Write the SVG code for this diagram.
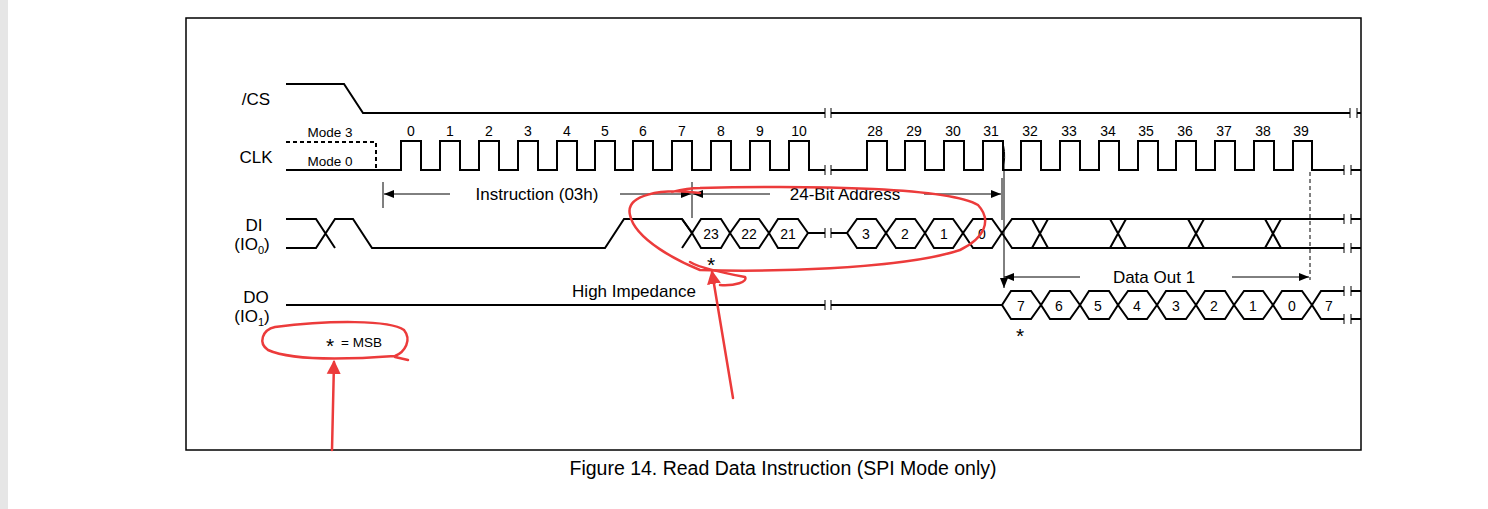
<svg xmlns="http://www.w3.org/2000/svg" width="1488" height="509" viewBox="0 0 1488 509">
<style>
.w{fill:none;stroke:#000;stroke-width:2}
.t{stroke:#000;stroke-width:1;fill:none}
text{font-family:"Liberation Sans",Arial,sans-serif;fill:#000}
.l{font-size:17px;text-anchor:middle}
.n{font-size:14px;text-anchor:middle}
.m{font-size:13.5px}
.r{fill:none;stroke:#ec3b3b;stroke-width:2.5;stroke-linecap:round}
</style>
<defs>
<marker id="a" markerWidth="10" markerHeight="8" refX="10" refY="4" orient="auto" markerUnits="userSpaceOnUse"><path d="M0,0 L10,4 L0,8z" fill="#000"/></marker>
<marker id="ra" markerWidth="14" markerHeight="24" refX="12" refY="12" orient="auto" markerUnits="userSpaceOnUse"><path d="M0,5 L14,12 L0,19z" fill="#ec3b3b"/></marker>
</defs>
<rect width="1488" height="509" fill="#fff"/>
<rect x="0" y="0" width="8" height="509" fill="#e6e6e6"/>
<rect x="186" y="18" width="1175" height="432" fill="none" stroke="#000" stroke-width="1.5"/>
<text x="783" y="475" class="l" style="font-size:19.5px">Figure 14. Read Data Instruction (SPI Mode only)</text>

<g id="labels">
<text x="256" y="105" class="l">/CS</text>
<text x="256" y="163" class="l">CLK</text>
<text x="254" y="231" class="l">DI</text>
<text x="252" y="250" class="l">(IO<tspan font-size="11" dy="4">0</tspan><tspan dy="-4">)</tspan></text>
<text x="256" y="303" class="l">DO</text>
<text x="252" y="322" class="l">(IO<tspan font-size="11" dy="4">1</tspan><tspan dy="-4">)</tspan></text>
</g>

<g id="cs">
<path class="w" d="M286,84 H344 L363,113 H825 M831,113 H1350 M1357,113 H1361"/>
<path class="t" d="M825,108 V118 M831,108 V118 M1350,108 V118 M1357,108 V118"/>
</g>

<g id="clk">
<path d="M286,142 H376 V170" fill="none" stroke="#000" stroke-width="2" stroke-dasharray="4,3"/>
<text x="330" y="137" class="m" text-anchor="middle">Mode 3</text>
<text x="330" y="166" class="m" text-anchor="middle">Mode 0</text>
<path class="w" d="M286,170 H401 V141 H421 V170 H440 V141 H460 V170 H479 V141 H499 V170 H518 V141 H538 V170 H557 V141 H577 V170 H595 V141 H615 V170 H633 V141 H653 V170 H672 V141 H692 V170 H711 V141 H731 V170 H750 V141 H770 V170 H789 V141 H809 V170 H825 M831,170 H867 V141 H887 V170 H905 V141 H925 V170 H944 V141 H964 V170 H983 V141 H1003 V170 H1021 V141 H1041 V170 H1060 V141 H1080 V170 H1099 V141 H1119 V170 H1138 V141 H1158 V170 H1176 V141 H1196 V170 H1215 V141 H1235 V170 H1254 V141 H1274 V170 H1293 V141 H1312 V170 H1344 M1351,170 H1361"/>
<path class="t" d="M825,165 V175 M831,165 V175 M1344,165 V175 M1351,165 V175"/>
<g class="n">
<text x="411" y="136">0</text><text x="450" y="136">1</text><text x="489" y="136">2</text><text x="528" y="136">3</text><text x="567" y="136">4</text><text x="605" y="136">5</text><text x="643" y="136">6</text><text x="682" y="136">7</text><text x="721" y="136">8</text><text x="760" y="136">9</text><text x="799" y="136">10</text>
<text x="875" y="136">28</text><text x="914" y="136">29</text><text x="953" y="136">30</text><text x="991" y="136">31</text><text x="1030" y="136">32</text><text x="1069" y="136">33</text><text x="1108" y="136">34</text><text x="1146" y="136">35</text><text x="1185" y="136">36</text><text x="1224" y="136">37</text><text x="1263" y="136">38</text><text x="1301" y="136">39</text>
</g>
</g>

<g id="spans">
<path class="t" d="M383,182 V208 M692,182 V218 M1002,178 V220"/>
<path class="t" d="M450,194 H384" marker-end="url(#a)"/>
<text x="537" y="200" class="l">Instruction (03h)</text>
<path class="t" d="M620,194 H691" marker-end="url(#a)"/>
<path class="t" d="M770,194 H693" marker-end="url(#a)"/>
<text x="845" y="200" class="l">24-Bit Address</text>
<path class="t" d="M924,194 H1001" marker-end="url(#a)"/>
<path class="t" d="M1310,172 V280" stroke-dasharray="4,3"/>
<path class="t" d="M1080,277 H1004" marker-end="url(#a)"/>
<text x="1154" y="283" class="l">Data Out 1</text>
<path class="t" d="M1232,277 H1309" marker-end="url(#a)"/>
<path class="t" d="M1002,141 Q1006,150 1004,165 V288" marker-end="url(#a)"/>
</g>

<g id="di">
<path class="w" d="M286,219 H316 L335,248 M286,248 H316 L335,219 H353 L372,248 H605 L624,219 H682 L692,233 L682,248"/>
<path class="w" d="M682,219 L692,233 L701,248 H721 L730,233 L740,248 H759 L769,233 L778,248 H798 L808,233 H825 M831,233 H847 L857,248 H876 L886,233 L896,248 H915 L925,233 L934,248 H953 L963,233 L973,248 H992 L1002,233 L1012,248 H1344 M1351,248 H1361"/>
<path class="w" d="M692,233 L701,219 H721 L730,233 L740,219 H759 L769,233 L778,219 H798 L808,233 M847,233 L857,219 H876 L886,233 L896,219 H915 L925,233 L934,219 H953 L963,233 L973,219 H992 L1002,233 L1012,219 H1344 M1351,219 H1361"/>
<path class="w" d="M1032,219 L1048,248 M1032,248 L1048,219 M1110,219 L1126,248 M1110,248 L1126,219 M1188,219 L1204,248 M1188,248 L1204,219 M1265,219 L1281,248 M1265,248 L1281,219" stroke-width="1.2"/>
<path class="t" d="M825,228 V238 M831,228 V238 M1344,214 V224 M1351,214 V224 M1344,243 V253 M1351,243 V253"/>
<g class="n"><text x="711" y="239">23</text><text x="749" y="239">22</text><text x="788" y="239">21</text><text x="866" y="239">3</text><text x="905" y="239">2</text><text x="944" y="239">1</text><text x="982" y="239">0</text></g>
<text x="711" y="272" class="l" style="font-size:21px">*</text>
</g>

<g id="do">
<path class="w" d="M286,305 H825 M831,305 H1002"/>
<path class="w" d="M1002,305 L1011,291 H1031 L1041,305 L1050,291 H1070 L1080,305 L1089,291 H1109 L1118,305 L1128,291 H1147 L1157,305 L1166,291 H1186 L1196,305 L1205,291 H1225 L1234,305 L1244,291 H1263 L1273,305 L1282,291 H1302 L1312,305 L1321,291 H1344 M1351,291 H1361"/>
<path class="w" d="M1002,305 L1011,319 H1031 L1041,305 L1050,319 H1070 L1080,305 L1089,319 H1109 L1118,305 L1128,319 H1147 L1157,305 L1166,319 H1186 L1196,305 L1205,319 H1225 L1234,305 L1244,319 H1263 L1273,305 L1282,319 H1302 L1312,305 L1321,319 H1344 M1351,319 H1361"/>
<path class="t" d="M825,300 V310 M831,300 V310 M1344,286 V296 M1351,286 V296 M1344,314 V324 M1351,314 V324"/>
<g class="n"><text x="1021" y="311">7</text><text x="1059" y="311">6</text><text x="1098" y="311">5</text><text x="1137" y="311">4</text><text x="1176" y="311">3</text><text x="1214" y="311">2</text><text x="1253" y="311">1</text><text x="1292" y="311">0</text><text x="1329" y="311">7</text></g>
<text x="634" y="297" class="l">High Impedance</text>
<text x="1020" y="343" class="l" style="font-size:21px">*</text>
<text x="330" y="353" class="l" style="font-size:21px">*</text>
<text x="341" y="347" class="m">= MSB</text>
</g>

<g id="annotations">
<path class="r" d="M700,193 C660,188 625,195 630,215 C635,240 680,262 700,270 C760,272 900,270 960,250 C985,238 992,220 978,205 C950,188 820,185 700,188 C690,188 680,190 672,192"/>
<path class="r" d="M690,262 C700,268 720,272 745,277 C748,282 735,286 720,285"/>
<path class="r" d="M275,327 C330,320 390,320 404,330 C412,340 405,352 395,356 C340,360 290,360 268,350 C258,343 262,330 275,327 M395,357 L408,360"/>
<path class="r" d="M733,398 L712,272" marker-end="url(#ra)" stroke-width="3"/>
<path class="r" d="M332,450 L334,362" marker-end="url(#ra)" stroke-width="3"/>
</g>
</svg>
